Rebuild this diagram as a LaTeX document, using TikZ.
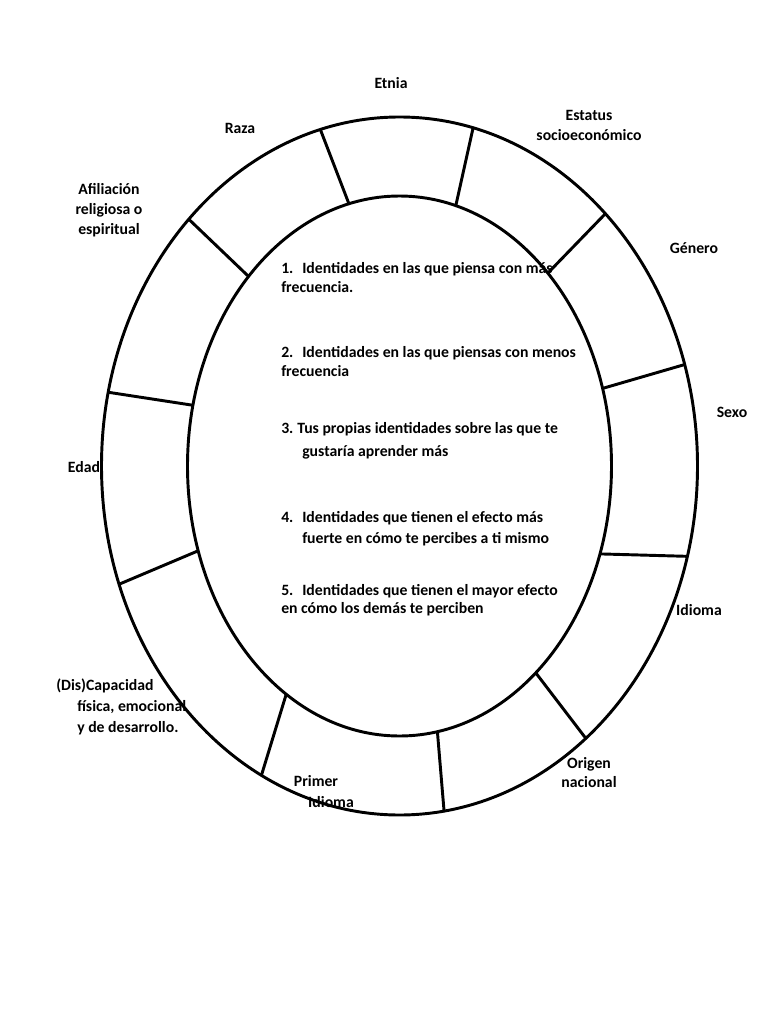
\documentclass[tikz,border=0pt]{standalone}
\usepackage{fontspec}
\setmainfont{Carlito}
\usetikzlibrary{calc}
\begin{document}
\begin{tikzpicture}[x=0.75pt,y=-0.75pt,
  ring/.style={line width=2.2pt},
  lbl/.style={font=\fontsize{11.8}{13}\selectfont\bfseries, inner sep=0pt, anchor=mid, yshift=-1.5pt},
  item/.style={font=\fontsize{11.8}{13}\selectfont\bfseries, inner sep=0pt, anchor=mid west, yshift=-1.5pt}]
\useasboundingbox (0,0) rectangle (768,1024);
\fill[white] (0,0) rectangle (768,1024);
\coordinate (c) at (399.5,466);
\draw[ring] (c) ellipse [x radius=298, y radius=349];
\draw[ring] (c) ellipse [x radius=212, y radius=270];
\foreach \a/\b [count=\i] in {256.2/254.6, 285.4/284.3, 314.4/313.7, 343.3/343.1, 19.0/15.0,
   50.0/51.3, 79.7/81.4, 122.3/117.6, 161.7/160.2, 193.0/192.2, 224.6/225.0}{
  \coordinate (in\i) at ($(c)+({212*cos(\a)},{270*sin(\a)})$);
  \coordinate (out\i) at ($(c)+({298*cos(\b)},{349*sin(\b)})$);
  \draw[ring] (in\i) -- (out\i);
}
% outer labels
\node[lbl] (etnia) at (391,83) {Etnia};
\node[lbl] (raza) at (240,128) {Raza};
\node[lbl] (estatus1) at (589,115) {Estatus};
\node[lbl] (estatus2) at (589,135) {socioeconómico};
\node[lbl] (afil1) at (109,189) {Afiliación};
\node[lbl] (afil2) at (109,209) {religiosa o};
\node[lbl] (afil3) at (109,229) {espiritual};
\node[lbl] (genero) at (694,248) {Género};
\node[lbl] (sexo) at (732,412) {Sexo};
\node[lbl] (edad) at (84,467) {Edad};
\node[lbl] (idioma) at (699,610) {Idioma};
\node[lbl] (origen1) at (589,763) {Origen};
\node[lbl] (origen2) at (589,782) {nacional};
\node[lbl] (primer) at (316,781) {Primer};
\node[lbl] (idioma2) at (331,802) {Idioma};
\node[item] (dis1) at (56,685) {(Dis)Capacidad};
\node[item] (dis2) at (77,706) {física, emocional};
\node[item] (dis3) at (77,727) {y de desarrollo.};
% inner items
\node[item] (i1a) at (281,268) {\makebox[15.75pt][l]{1.}Identidades en las que piensa con más};
\node[item] (i1b) at (281,287) {frecuencia.};
\node[item] (i2a) at (281,352) {\makebox[15.75pt][l]{2.}Identidades en las que piensas con menos};
\node[item] (i2b) at (281,371) {frecuencia};
\node[item] (i3a) at (281,428) {\makebox[12pt][l]{3.}Tus propias identidades sobre las que te};
\node[item] (i3b) at (302,451) {gustaría aprender más};
\node[item] (i4a) at (281,517) {\makebox[15.75pt][l]{4.}Identidades que tienen el efecto más};
\node[item] (i4b) at (302,538) {fuerte en cómo te percibes a ti mismo};
\node[item] (i5a) at (281,590) {\makebox[15.75pt][l]{5.}Identidades que tienen el mayor efecto};
\node[item] (i5b) at (281,608) {en cómo los demás te perciben};
\end{tikzpicture}
\end{document}
